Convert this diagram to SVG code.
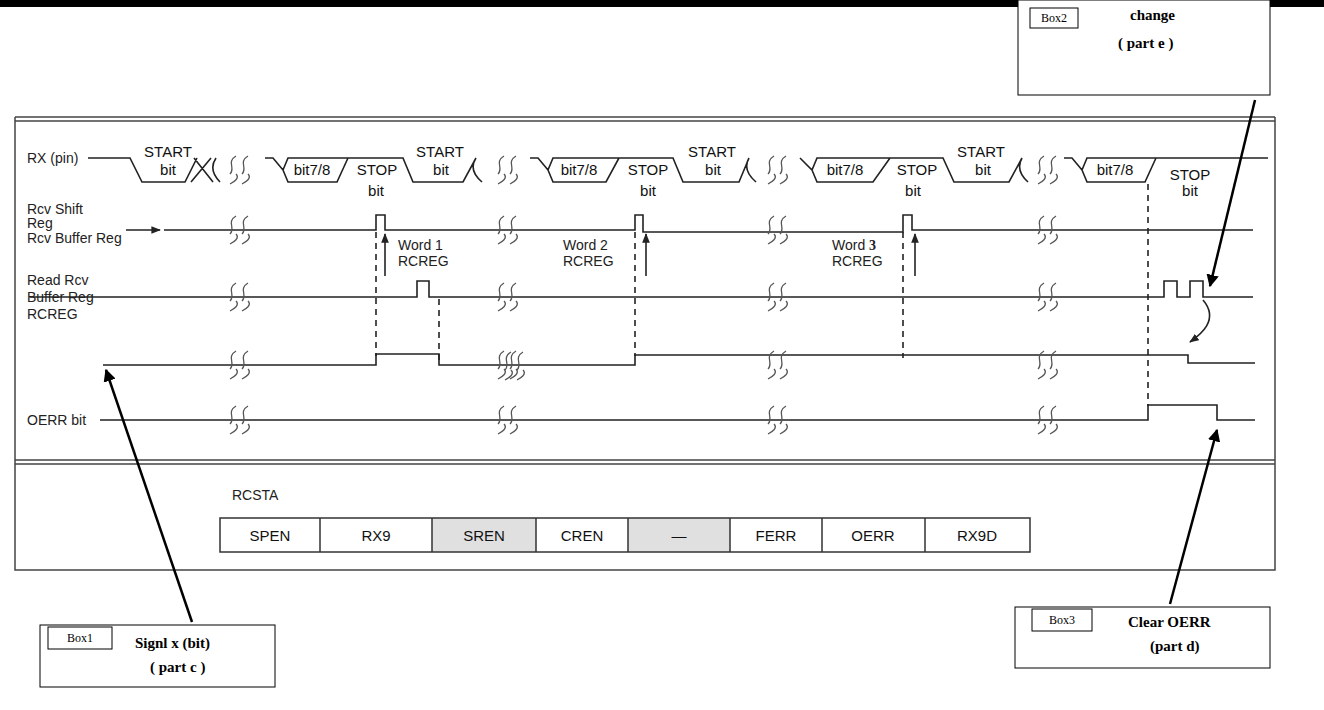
<svg xmlns="http://www.w3.org/2000/svg" width="1324" height="710" viewBox="0 0 1324 710">
<style>
.w{fill:none;stroke:#222;stroke-width:1.6}
.d{fill:none;stroke:#222;stroke-width:1.6;stroke-dasharray:6,5}
.s{fill:none;stroke:#555;stroke-width:1.3}
.t{font-family:"Liberation Sans",Arial,sans-serif;font-size:14px;fill:#222}
.c{font-family:"Liberation Sans",Arial,sans-serif;font-size:15px;fill:#111;text-anchor:middle}
.b{font-family:"Liberation Serif","Times New Roman",serif;font-size:15px;font-weight:bold;fill:#000}
.bs{font-family:"Liberation Serif","Times New Roman",serif;font-size:12px;fill:#000}
.a{stroke:#000;stroke-width:2.5;fill:none}
</style>
<defs>
<marker id="ah" viewBox="0 0 10 10" refX="9" refY="5" markerWidth="5" markerHeight="5" orient="auto"><path d="M0,0L10,5L0,10z" fill="#000"/></marker>
<marker id="sa" viewBox="0 0 10 10" refX="9" refY="5" markerWidth="6" markerHeight="6" orient="auto"><path d="M0,1L10,5L0,9z" fill="#222"/></marker>
<g id="sq"><path class="s" d="M4,-14 C-6,-8 4,-2 -2,4 M4,4 C8,8 2,12 -2,14"/><path class="s" d="M16,-14 C6,-8 16,-2 10,4 M16,4 C20,8 14,12 10,14"/></g>
</defs>
<rect x="0" y="0" width="1324" height="7" fill="#000"/>
<g id="frame">
<path d="M15,117H1275M15,121H1275M15,460H1275M15,464H1275" stroke="#444" stroke-width="1.3"/>
<path d="M15,117V570H1275V117" fill="none" stroke="#444" stroke-width="1.5"/>
</g>
<g id="labels">
<text class="t" x="27" y="163">RX (pin)</text>
<text class="t" x="27" y="214">Rcv Shift</text>
<text class="t" x="27" y="228">Reg</text>
<text class="t" x="27" y="243">Rcv Buffer Reg</text>
<text class="t" x="27" y="285">Read Rcv</text>
<text class="t" x="27" y="302">Buffer Reg</text>
<text class="t" x="27" y="319">RCREG</text>
<text class="t" x="27" y="425">OERR bit</text>
</g>
<g id="rx">
<path class="w" d="M88,158H130L142,182H185L197,158M191,182L211,158M194,158L213,182M216,158 Q208,170 220,182M265,158H273L283,170L288,158H337L348,158H403L413,182H463L476,158M283,170L288,182H337L348,158M476,158 Q468,170 482,182M530,158H538L548,170L553,158H606H673L683,182H739L749,158M548,170L553,182H606L619,158M749,158 Q742,170 756,182M800,158L812,170L817,158H873H943L954,182H1009L1022,158M812,170L817,182H873L890,158M1022,158 Q1015,170 1028,182M1064,158H1072L1082,170L1087,158H1145H1268M1082,170L1087,182H1145L1156,158"/>
<use href="#sq" x="232" y="170"/><use href="#sq" x="500" y="170"/><use href="#sq" x="770" y="170"/><use href="#sq" x="1040" y="170"/>
<text class="c" x="168" y="157" font-size="14">START</text><text class="c" x="168" y="175" font-size="14">bit</text>
<text class="c" x="312" y="175" font-size="14">bit7/8</text>
<text class="c" x="377" y="175" font-size="14">STOP</text><text class="c" x="376" y="196" font-size="14">bit</text>
<text class="c" x="440" y="157" font-size="14">START</text><text class="c" x="441" y="175" font-size="14">bit</text>
<text class="c" x="579" y="175" font-size="14">bit7/8</text>
<text class="c" x="648" y="175" font-size="14">STOP</text><text class="c" x="648" y="196" font-size="14">bit</text>
<text class="c" x="712" y="157" font-size="14">START</text><text class="c" x="713" y="175" font-size="14">bit</text>
<text class="c" x="845" y="175" font-size="14">bit7/8</text>
<text class="c" x="917" y="175" font-size="14">STOP</text><text class="c" x="913" y="196" font-size="14">bit</text>
<text class="c" x="981" y="157" font-size="14">START</text><text class="c" x="983" y="175" font-size="14">bit</text>
<text class="c" x="1115" y="175" font-size="14">bit7/8</text>
<text class="c" x="1190" y="180" font-size="14">STOP</text><text class="c" x="1190" y="196" font-size="14">bit</text>
</g>
<g id="signals">
<path class="w" d="M126,230H160" marker-end="url(#sa)"/>
<path class="w" d="M164,230H376V215H385V230H635V215H643V232H650H903V215H912V230H1253"/>
<path class="w" d="M30,297H417V281H429V297H1164V281H1177V297H1190V281H1203V297H1253"/>
<path class="w" d="M103,365H376V354H439V365H635V355H1188V363H1255"/>
<path class="w" d="M100,420H1148V405H1217V420H1255"/>
<use href="#sq" x="232" y="230"/><use href="#sq" x="500" y="230"/><use href="#sq" x="770" y="230"/><use href="#sq" x="1040" y="230"/>
<use href="#sq" x="232" y="297"/><use href="#sq" x="500" y="297"/><use href="#sq" x="770" y="297"/><use href="#sq" x="1040" y="297"/>
<use href="#sq" x="232" y="365"/><use href="#sq" x="500" y="365"/><use href="#sq" x="507" y="366"/><use href="#sq" x="770" y="365"/><use href="#sq" x="1040" y="365"/>
<use href="#sq" x="232" y="420"/><use href="#sq" x="500" y="420"/><use href="#sq" x="770" y="420"/><use href="#sq" x="1040" y="420"/>
<text class="t" x="398" y="250">Word 1</text><text class="t" x="398" y="266">RCREG</text>
<text class="t" x="563" y="250">Word 2</text><text class="t" x="563" y="266">RCREG</text>
<text class="t" x="832" y="250">Word <tspan font-family="Liberation Serif" font-weight="bold">3</tspan></text><text class="t" x="832" y="266">RCREG</text>
</g>
<g id="connectors">
<path class="w" d="M385,276V234" marker-end="url(#sa)"/>
<path class="w" d="M646,276V234" marker-end="url(#sa)"/>
<path class="w" d="M915,276V234" marker-end="url(#sa)"/>
<path class="d" d="M376,232V356M439,299V364M635,232V356M903,232V358M1148,184V406"/>
<path class="w" d="M1203,300 C1220,320 1200,335 1190,342" marker-end="url(#sa)"/>
<path class="a" d="M1255,100L1210,286" marker-end="url(#ah)"/>
<path class="a" d="M192,622L106,370" marker-end="url(#ah)"/>
<path class="a" d="M1170,604L1217,430" marker-end="url(#ah)"/>
</g>
<g id="rcsta">
<text class="t" x="232" y="500" font-size="15">RCSTA</text>
<rect x="432" y="518" width="104" height="34" fill="#e0e0e0"/>
<rect x="628" y="518" width="102" height="34" fill="#e0e0e0"/>
<rect x="220" y="518" width="810" height="34" fill="none" stroke="#333" stroke-width="1.5"/>
<path d="M320,518V552M432,518V552M536,518V552M628,518V552M730,518V552M822,518V552M925,518V552" stroke="#333" stroke-width="1.5"/>
<text class="c" x="270" y="541">SPEN</text><text class="c" x="376" y="541">RX9</text><text class="c" x="484" y="541">SREN</text><text class="c" x="582" y="541">CREN</text><text class="c" x="679" y="541">—</text><text class="c" x="776" y="541">FERR</text><text class="c" x="873" y="541">OERR</text><text class="c" x="977" y="541">RX9D</text>
</g>
<g id="box2">
<rect x="1018" y="0" width="252" height="95" fill="#fff" stroke="#000"/>
<rect x="1030" y="8" width="48" height="20" fill="none" stroke="#000"/>
<text class="bs" x="1054" y="22" text-anchor="middle">Box2</text>
<text class="b" x="1130" y="20">change</text><text class="b" x="1118" y="48">( part e )</text>
</g>
<g id="box1">
<rect x="40" y="625" width="235" height="62" fill="#fff" stroke="#000"/>
<rect x="48" y="627" width="64" height="22" fill="none" stroke="#000"/>
<text class="bs" x="80" y="642" text-anchor="middle">Box1</text>
<text class="b" x="135" y="648">Signl x (bit)</text><text class="b" x="150" y="672">( part c )</text>
</g>
<g id="box3">
<rect x="1015" y="607" width="255" height="61" fill="#fff" stroke="#000"/>
<rect x="1032" y="609" width="60" height="22" fill="none" stroke="#000"/>
<text class="bs" x="1062" y="624" text-anchor="middle">Box3</text>
<text class="b" x="1128" y="627">Clear  OERR</text><text class="b" x="1150" y="651">(part d)</text>
</g>
</svg>
